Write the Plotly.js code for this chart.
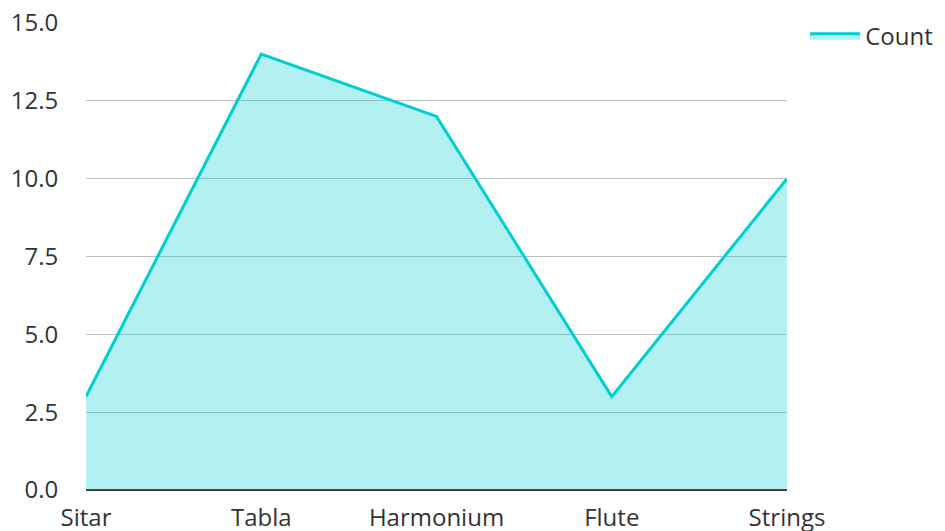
<!DOCTYPE html>
<html>
<head>
<meta charset="utf-8">
<script src="https://cdn.plot.ly/plotly-3.0.1.min.js"></script>
<style>html,body{margin:0;padding:0;background:#fff;}#chart{width:945px;height:531px;}</style>
</head>
<body>
<div id="chart"></div>
<script>
const categories = ["Sitar", "Tabla", "Harmonium", "Flute", "Strings"];
const counts = [3, 14, 12, 3, 10];
const seriesName = "Count";
const yTicks = [0, 2.5, 5, 7.5, 10, 12.5, 15];

const trace = {
  x: categories,
  y: counts,
  name: seriesName,
  type: "scatter",
  mode: "lines",
  fill: "tozeroy",
  line: {color: "#00CED1", width: 3},
  fillcolor: "rgba(0,206,209,0.3)"
};

const layout = {
  width: 945,
  height: 531,
  margin: {l: 86, r: 158, t: 23, b: 41},
  paper_bgcolor: "#fff",
  plot_bgcolor: "#fff",
  font: {family: "Open Sans, Noto Sans, sans-serif", size: 24, color: "#333"},
  showlegend: true,
  legend: {xref: "container", x: 0.852, y: 1.02, xanchor: "left", yanchor: "top", itemwidth: 50, font: {size: 24, color: "#333"}},
  xaxis: {
    showgrid: false,
    showline: false,
    zeroline: false,
    ticks: "outside",
    ticklen: 6,
    tickcolor: "rgba(0,0,0,0)",
    range: [0, 4],
    automargin: false
  },
  yaxis: {
    range: [0, 15],
    tickvals: yTicks,
    ticktext: yTicks.map(v => v.toFixed(1)),
    showgrid: true,
    gridcolor: "#c0c0c0",
    gridwidth: 1,
    zeroline: true,
    zerolinecolor: "#333",
    zerolinewidth: 2,
    ticks: "outside",
    ticklen: 22,
    tickcolor: "rgba(0,0,0,0)",
    automargin: false
  }
};

Plotly.newPlot("chart", [trace], layout, {displayModeBar: false, staticPlot: true});
</script>
</body>
</html>
